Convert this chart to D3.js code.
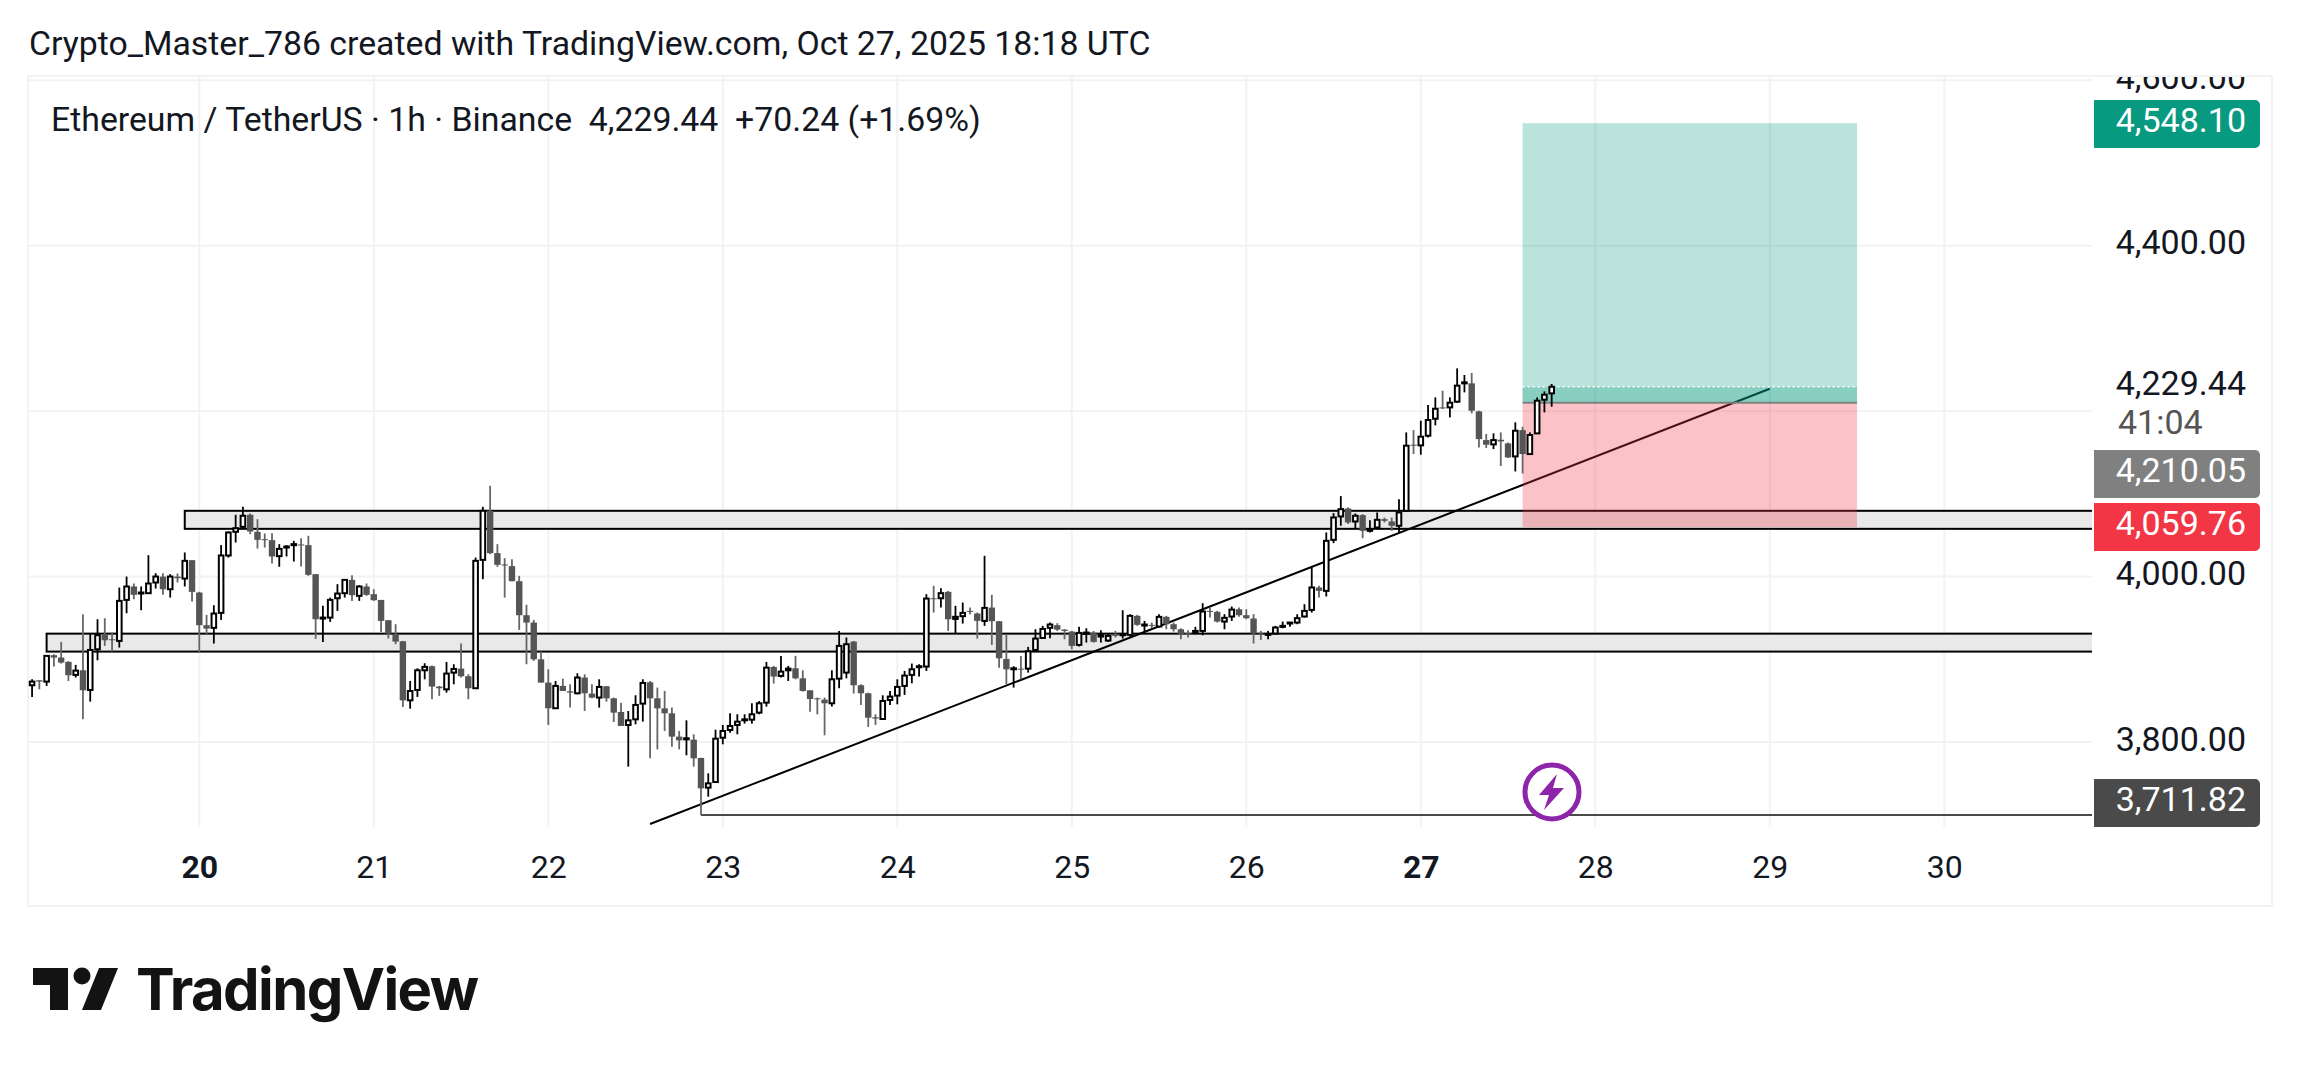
<!DOCTYPE html>
<html>
<head>
<meta charset="utf-8">
<script src="https://cdn.jsdelivr.net/npm/d3@7"></script>
<style>
  body { margin: 0; background: #fff; }
  text { font-family: Roboto, sans-serif; }
</style>
</head>
<body>
<svg id="chart" width="2300" height="1075"></svg>
<script>
// hourly candles, first one is Oct 19 01:00 UTC
var firstCandle = Date.UTC(2025, 9, 19, 1);

var opens = [3868.6,3874.6,3873.0,3904.9,3902.1,3896.8,3881.1,3886.7,3862.9,3912.1,3930.3,3924.2,3922.2,3971.8,3988.0,3979.9,3979.9,3992.8,4000.0,3984.7,
  4000.0,3997.6,4019.8,3980.7,3941.2,3938.0,3956.1,4025.5,4054.1,4060.1,4074.7,4054.1,4045.2,4044.0,4024.7,4035.1,4038.0,4038.8,4038.0,4002.9,
  3949.2,3950.4,3973.8,3979.9,3996.0,3976.7,3988.0,3978.7,3971.8,3947.2,3930.3,3921.8,3850.4,3862.9,3886.7,3891.6,3867.0,3863.7,3883.9,3888.7,
  3879.5,3865.0,4020.2,4079.5,4028.3,4014.6,4012.6,3994.4,3953.3,3944.4,3900.0,3871.8,3840.8,3867.8,3861.3,3858.9,3877.9,3858.5,3853.7,3867.4,
  3852.8,3836.3,3820.6,3827.4,3846.4,3872.2,3852.8,3840.7,3834.7,3806.5,3803.2,3802.8,3780.7,3744.8,3751.6,3805.2,3814.5,3820.6,3826.2,3827.0,
  3835.5,3847.6,3890.7,3879.9,3886.7,3889.1,3877.0,3862.5,3852.8,3851.2,3846.8,3876.6,3883.9,3921.4,3868.6,3858.9,3829.9,3827.8,3850.8,3856.1,
  3867.8,3881.1,3890.8,3891.2,3973.8,3973.8,3981.5,3948.8,3952.1,3958.5,3955.3,3946.4,3962.5,3946.0,3900.4,3887.9,3888.7,3888.7,3911.3,3925.8,
  3938.0,3941.2,3935.9,3933.5,3917.4,3930.7,3932.3,3927.5,3922.6,3929.5,3929.1,3929.5,3952.5,3940.8,3941.6,3939.6,3951.3,3942.4,3936.3,3931.5,
  3933.1,3934.3,3958.5,3957.3,3945.6,3951.7,3960.5,3953.3,3949.3,3931.1,3929.9,3931.1,3939.6,3943.6,3944.4,3951.7,3959.7,3986.8,3982.7,4044.4,
  4072.7,4082.3,4066.6,4074.3,4055.3,4059.3,4069.4,4066.6,4061.4,4079.5,4159.4,4158.6,4170.3,4190.8,4204.5,4204.5,4211.4,4233.6,4233.6,4199.7,
  4165.0,4159.8,4165.4,4161.0,4145.3,4177.1,4148.1,4173.1,4213.8,4221.5];

var highs = [3875.8,3874.6,3904.9,3906.1,3921.0,3898.0,3893.2,3954.5,3930.3,3948.4,3949.6,3932.3,3986.7,4000.0,3991.6,3988.0,4025.9,4004.1,4004.1,4002.9,
  4003.7,4029.1,4019.8,3981.5,3953.7,3965.4,4038.0,4054.5,4074.7,4084.3,4076.3,4069.4,4052.1,4052.5,4039.2,4038.0,4043.2,4046.4,4049.3,4002.9,
  3964.6,3974.6,3990.8,3996.0,4001.7,3989.6,3991.6,3984.7,3971.8,3947.2,3942.4,3922.2,3873.8,3889.1,3895.2,3892.4,3867.8,3896.8,3894.0,3919.0,
  3881.9,4023.0,4084.3,4109.8,4039.2,4022.2,4021.0,4000.9,3965.8,3947.6,3909.3,3887.9,3873.8,3876.6,3869.8,3883.1,3881.9,3869.8,3875.8,3867.8,
  3853.7,3847.6,3837.5,3856.5,3875.8,3873.8,3865.8,3861.7,3841.6,3813.3,3826.2,3809.3,3781.1,3762.1,3814.9,3820.6,3834.7,3833.5,3833.5,3846.8,
  3849.6,3896.8,3892.0,3904.1,3892.0,3904.1,3886.7,3862.5,3853.7,3853.7,3886.7,3934.3,3926.3,3922.2,3869.8,3859.7,3833.5,3856.5,3861.7,3875.8,
  3885.9,3894.8,3894.0,3978.7,3988.8,3985.9,3982.7,3964.6,3968.6,3962.5,3956.5,4025.1,3977.9,3946.4,3930.3,3891.6,3904.1,3915.0,3936.3,3940.4,
  3944.4,3943.6,3936.3,3934.3,3939.2,3937.5,3934.3,3935.1,3930.3,3934.3,3959.3,3954.5,3953.7,3946.4,3944.4,3954.5,3952.5,3944.4,3937.5,3935.1,
  3939.2,3967.8,3962.6,3958.5,3954.5,3963.8,3962.6,3960.5,3954.5,3934.3,3934.3,3940.4,3945.6,3944.4,3954.5,3966.6,4011.0,3988.8,4053.3,4076.7,
  4097.3,4083.5,4076.3,4075.5,4068.2,4077.5,4071.4,4071.4,4093.6,4174.3,4177.1,4188.4,4207.4,4216.6,4224.7,4216.6,4251.7,4243.7,4246.1,4200.5,
  4172.3,4173.1,4174.3,4162.2,4186.4,4181.1,4174.3,4216.6,4223.9,4232.8];

var lows = [3854.5,3863.7,3867.8,3891.2,3894.8,3873.8,3877.9,3827.4,3848.8,3898.8,3916.2,3909.3,3914.2,3955.7,3972.6,3959.3,3979.9,3985.5,3977.9,3974.6,
  3992.8,3988.0,3969.8,3908.9,3930.3,3919.0,3947.6,4023.0,4041.2,4058.5,4051.3,4033.9,4035.1,4015.8,4011.8,4024.3,4018.2,4012.2,4000.9,3924.6,
  3921.0,3945.2,3958.5,3974.6,3970.6,3970.6,3976.7,3970.6,3933.1,3925.0,3918.2,3842.4,3840.3,3854.5,3875.8,3851.6,3855.7,3859.7,3869.8,3877.9,
  3851.6,3865.0,3996.8,4027.1,4011.8,3974.6,3994.4,3935.5,3894.0,3898.0,3871.8,3820.6,3840.8,3861.7,3841.6,3857.7,3837.5,3852.8,3841.6,3848.8,
  3824.2,3819.4,3770.2,3821.4,3824.6,3780.3,3791.1,3813.3,3794.4,3791.1,3783.9,3770.2,3711.82,3733.9,3750.8,3797.2,3811.3,3809.3,3822.2,3822.2,
  3833.5,3842.8,3870.6,3877.9,3873.8,3875.8,3860.9,3836.7,3833.5,3808.1,3842.8,3865.0,3877.0,3858.5,3844.8,3818.2,3820.6,3827.0,3844.8,3845.6,
  3856.9,3871.0,3879.1,3885.9,3956.5,3962.5,3934.3,3931.1,3943.2,3954.5,3925.0,3940.4,3917.4,3889.9,3869.8,3865.8,3875.8,3883.9,3910.1,3925.4,
  3925.4,3934.3,3924.2,3912.1,3915.4,3920.2,3920.2,3920.2,3921.0,3926.3,3925.0,3927.5,3940.4,3931.1,3937.5,3938.4,3936.3,3933.5,3924.2,3926.3,
  3930.3,3929.1,3950.5,3944.4,3936.3,3946.4,3951.3,3948.4,3919.0,3923.4,3924.2,3930.3,3937.5,3939.2,3942.4,3950.5,3956.5,3974.6,3975.9,4040.4,
  4061.4,4063.4,4057.3,4046.4,4053.3,4057.3,4065.4,4055.3,4053.3,4079.5,4148.1,4147.3,4168.2,4182.8,4202.5,4192.4,4210.2,4222.7,4197.3,4156.1,
  4155.3,4154.1,4133.6,4143.2,4127.1,4124.7,4148.1,4172.3,4198.5,4205.3];

var closes = [3873.0,3873.0,3904.1,3902.1,3896.0,3880.7,3886.3,3862.5,3911.3,3929.1,3923.0,3923.0,3970.6,3988.0,3977.9,3980.7,3991.6,4000.0,3984.7,4000.0,
  3998.0,4019.0,3981.5,3941.2,3937.1,3955.3,4025.5,4053.3,4058.5,4073.5,4054.5,4044.4,4044.0,4024.3,4033.5,4036.3,4039.2,4038.0,4002.1,3948.4,
  3950.4,3971.8,3979.5,3996.0,3977.5,3988.0,3977.9,3971.4,3946.4,3931.1,3921.4,3850.4,3861.7,3886.7,3890.8,3867.0,3865.0,3882.7,3888.3,3879.5,
  3865.0,4019.0,4079.5,4028.3,4014.2,4013.8,3994.4,3953.3,3944.4,3900.0,3871.8,3840.8,3867.8,3861.7,3859.7,3877.9,3858.9,3853.7,3866.6,3852.8,
  3835.5,3819.4,3826.2,3844.8,3871.4,3852.8,3840.7,3834.7,3806.5,3802.0,3804.5,3780.3,3744.0,3750.0,3804.0,3813.3,3819.4,3824.6,3827.4,3833.5,
  3846.8,3889.9,3879.1,3885.1,3888.7,3877.0,3861.7,3852.0,3851.6,3846.8,3875.8,3916.2,3918.2,3868.6,3858.9,3829.4,3828.3,3849.6,3854.9,3866.6,
  3880.3,3887.9,3891.6,3973.4,3972.6,3979.9,3948.4,3951.3,3956.1,3957.3,3946.4,3962.1,3946.0,3901.2,3887.9,3889.1,3887.9,3909.7,3925.0,3936.7,
  3942.0,3935.9,3934.3,3916.2,3931.9,3932.3,3921.0,3929.1,3928.3,3928.3,3930.3,3952.5,3941.6,3942.0,3940.4,3951.3,3942.4,3936.3,3930.3,3930.3,
  3934.3,3957.7,3957.3,3945.6,3950.1,3960.1,3953.3,3949.7,3931.1,3929.9,3930.7,3938.4,3940.4,3944.4,3949.7,3958.5,3986.8,3982.7,4043.2,4071.4,
  4081.5,4065.4,4073.5,4055.3,4057.3,4068.6,4067.4,4061.4,4077.5,4158.2,4158.6,4169.1,4189.2,4202.9,4203.3,4210.2,4230.8,4234.8,4200.5,4166.2,
  4159.4,4165.0,4163.4,4144.0,4176.3,4148.1,4171.1,4212.6,4219.9,4229.44];

var dayTicks = [20, 21, 22, 23, 24, 25, 26, 27, 28, 29, 30];
var boldDays = [20, 27];
var priceTicks = [3800, 4000, 4200, 4400, 4600];
var axisPriceTicks = [3800, 4000, 4400, 4600];

var targetPrice = 4548.10, entryPrice = 4210.05, stopPrice = 4059.76;
var lastPrice = 4229.44, lowPrice = 3711.82;
var zoneHigh = [4079.5, 4057.7], zoneLow = [3931.0, 3909.3];

var titleText = "Crypto_Master_786 created with TradingView.com, Oct 27, 2025 18:18 UTC";
var legendText = "Ethereum / TetherUS \u00b7 1h \u00b7 Binance\u00a0\u00a04,229.44\u00a0\u00a0+70.24 (+1.69%)";

var svg = d3.select("#chart");
var paneLeft = 28, paneRight = 2092, paneTop = 76, paneBottom = 827;

var hour = 3600000;
var day20 = Date.UTC(2025, 9, 20);

var scX = d3.scaleUtc()
  .domain([new Date(day20), new Date(Date.UTC(2025, 9, 30))])
  .range([199.3, 1944.3]);

var scY = d3.scaleLinear()
  .domain([3800, 4400])
  .range([742, 245.7]);

var candles = opens.map(function(o, i) {
  return { t: new Date(firstCandle + i * hour), o: o, h: highs[i], l: lows[i], c: closes[i] };
});

svg.append("clipPath").attr("id", "pane").append("rect")
  .attr("x", paneLeft).attr("y", paneTop)
  .attr("width", paneRight - paneLeft).attr("height", paneBottom - paneTop);
svg.append("clipPath").attr("id", "axisClip").append("rect")
  .attr("x", paneRight).attr("y", 77).attr("width", 180).attr("height", 800);

// outer frame
svg.append("rect")
  .attr("x", 28).attr("y", 76).attr("width", 2244).attr("height", 830)
  .attr("fill", "none").attr("stroke", "#f3f3f3").attr("stroke-width", 2);

// grid
var grid = svg.append("g").attr("stroke", "#f2f2f2").attr("stroke-width", 2);
grid.selectAll(".h").data(priceTicks).enter().append("line").attr("class", "h")
  .attr("x1", paneLeft).attr("x2", paneRight)
  .attr("y1", d => scY(d)).attr("y2", d => scY(d));
grid.selectAll(".v").data(dayTicks).enter().append("line").attr("class", "v")
  .attr("x1", d => scX(Date.UTC(2025, 9, d))).attr("x2", d => scX(Date.UTC(2025, 9, d)))
  .attr("y1", paneTop).attr("y2", paneBottom);

var pane = svg.append("g").attr("clip-path", "url(#pane)");

// support / resistance boxes, they run off the right side
var zones = [
  { start: Date.UTC(2025, 9, 19, 22), top: zoneHigh[0], bottom: zoneHigh[1] },
  { start: Date.UTC(2025, 9, 19, 3), top: zoneLow[0], bottom: zoneLow[1] }
];
pane.selectAll(".zone").data(zones).enter().append("rect").attr("class", "zone")
  .attr("x", d => scX(d.start))
  .attr("y", d => scY(d.top))
  .attr("width", d => paneRight + 20 - scX(d.start))
  .attr("height", d => scY(d.bottom) - scY(d.top))
  .attr("fill", "#e9e9e9").attr("stroke", "#000").attr("stroke-width", 2);

// low price line
pane.append("line")
  .attr("x1", scX(Date.UTC(2025, 9, 22, 21))).attr("x2", paneRight)
  .attr("y1", scY(lowPrice)).attr("y2", scY(lowPrice))
  .attr("stroke", "#4a4a4a").attr("stroke-width", 2);

// trend line
var trendTimes = [Date.UTC(2025, 9, 22, 14), Date.UTC(2025, 9, 29, 0)];
var trendPrices = [3700.8, 4227];
var lineMaker = d3.line().x(d => scX(d[0])).y(d => scY(d[1]));
pane.append("path")
  .attr("d", lineMaker(d3.zip(trendTimes, trendPrices)))
  .attr("fill", "none").attr("stroke", "#000").attr("stroke-width", 2);

// long position tool
var posStart = scX(Date.UTC(2025, 9, 27, 14)), posEnd = scX(Date.UTC(2025, 9, 29, 12));
function posRect(top, bottom, color, alpha) {
  pane.append("rect")
    .attr("x", posStart).attr("width", posEnd - posStart)
    .attr("y", scY(top)).attr("height", scY(bottom) - scY(top))
    .attr("fill", color).attr("fill-opacity", alpha);
}
posRect(targetPrice, entryPrice, "#089981", 0.28);
posRect(lastPrice, entryPrice, "#089981", 0.28);
posRect(entryPrice, stopPrice, "#f23645", 0.3);
pane.append("line")
  .attr("x1", posStart).attr("x2", posEnd)
  .attr("y1", scY(entryPrice)).attr("y2", scY(entryPrice))
  .attr("stroke", "#808080").attr("stroke-width", 2);
pane.append("line")
  .attr("x1", posStart).attr("x2", posEnd)
  .attr("y1", scY(lastPrice)).attr("y2", scY(lastPrice))
  .attr("stroke", "#fff").attr("stroke-width", 1.5).attr("stroke-dasharray", "2,3");

// candles go on top of everything
var candleG = pane.selectAll(".candle").data(candles).enter().append("g").attr("class", "candle");
candleG.append("line")
  .attr("x1", d => scX(d.t)).attr("x2", d => scX(d.t))
  .attr("y1", d => scY(d.h)).attr("y2", d => scY(d.l))
  .attr("stroke", d => d.c >= d.o ? "#000" : "#666")
  .attr("stroke-width", 1.8);
candleG.append("rect")
  .attr("x", d => scX(d.t) - (d.c >= d.o ? 2.3 : 3.2))
  .attr("width", d => d.c >= d.o ? 4.6 : 6.4)
  .attr("y", d => scY(Math.max(d.o, d.c)))
  .attr("height", d => Math.max(scY(Math.min(d.o, d.c)) - scY(Math.max(d.o, d.c)), 1))
  .attr("fill", d => d.c >= d.o ? "#fff" : "#555")
  .attr("stroke", d => d.c >= d.o ? "#000" : "none")
  .attr("stroke-width", 2);

// lightning badge
var badge = svg.append("g").attr("transform", "translate(1552,792)");
badge.append("circle").attr("r", 27).attr("fill", "#fff").attr("stroke", "#8e24aa").attr("stroke-width", 5);
badge.append("path")
  .attr("d", "M5,-18 L-13,3 L-3,3 L-8,18 L12,-4 L1,-4 Z")
  .attr("fill", "#8e24aa");

// price axis
var axisY = d3.axisRight(scY).tickValues(axisPriceTicks).tickFormat(d3.format(",.2f")).tickSize(0).tickPadding(0);
var axG = svg.append("g").attr("clip-path", "url(#axisClip)")
  .append("g").attr("transform", "translate(2246,0)").call(axisY);
axG.select(".domain").remove();
axG.selectAll("text")
  .attr("text-anchor", "end").attr("x", 0).attr("dy", "0.24em")
  .attr("font-size", 34).attr("fill", "#131722")
  .style("font-family", "Roboto, sans-serif");

// time axis
var axisX = d3.axisBottom(scX)
  .tickValues(dayTicks.map(d => new Date(Date.UTC(2025, 9, d))))
  .tickFormat(d => d.getUTCDate()).tickSize(0).tickPadding(0);
var axX = svg.append("g").attr("transform", "translate(0,867)").call(axisX);
axX.select(".domain").remove();
axX.selectAll("text")
  .attr("y", 0).attr("dy", "0.35em")
  .attr("font-size", 32).attr("fill", "#131722")
  .attr("font-weight", d => boldDays.indexOf(d.getUTCDate()) >= 0 ? 700 : 400)
  .style("font-family", "Roboto, sans-serif");

// price tags on the right
function tag(text, top, color) {
  svg.append("path")
    .attr("d", "M2094," + top + " h161 a5,5 0 0 1 5,5 v38 a5,5 0 0 1 -5,5 h-161 Z")
    .attr("fill", color);
  svg.append("text").attr("x", 2246).attr("y", top + 32)
    .attr("text-anchor", "end").attr("font-size", 34).attr("fill", "#fff").text(text);
}
tag("4,548.10", 100, "#089981");
tag("4,210.05", 450, "#808080");
tag("4,059.76", 503, "#f23645");
tag("3,711.82", 779, "#4a4a4a");

svg.append("text").attr("x", 2246).attr("y", 395).attr("text-anchor", "end")
  .attr("font-size", 34).attr("fill", "#131722").text("4,229.44");
svg.append("text").attr("x", 2118).attr("y", 434)
  .attr("font-size", 34).attr("fill", "#555").text("41:04");

// header texts
svg.append("text").attr("x", 29).attr("y", 55).attr("font-size", 33.8).attr("fill", "#131722").text(titleText);
svg.append("text").attr("x", 51).attr("y", 131).attr("font-size", 33.8).attr("fill", "#131722").text(legendText);

// TradingView logo
var logo = svg.append("g").attr("fill", "#131313");
logo.append("path").attr("d", "M33,968 H68 V1010 H50 V985 H33 Z");
logo.append("circle").attr("cx", 82).attr("cy", 976).attr("r", 8.5);
logo.append("path").attr("d", "M99,968 H118 L101,1010 H82 Z");
logo.append("text").attr("x", 136).attr("y", 1010)
  .attr("font-size", 58).attr("font-weight", 700)
  .style("font-family", "Inter, sans-serif").attr("textLength", 343).text("TradingView");
</script>
</body>
</html>
